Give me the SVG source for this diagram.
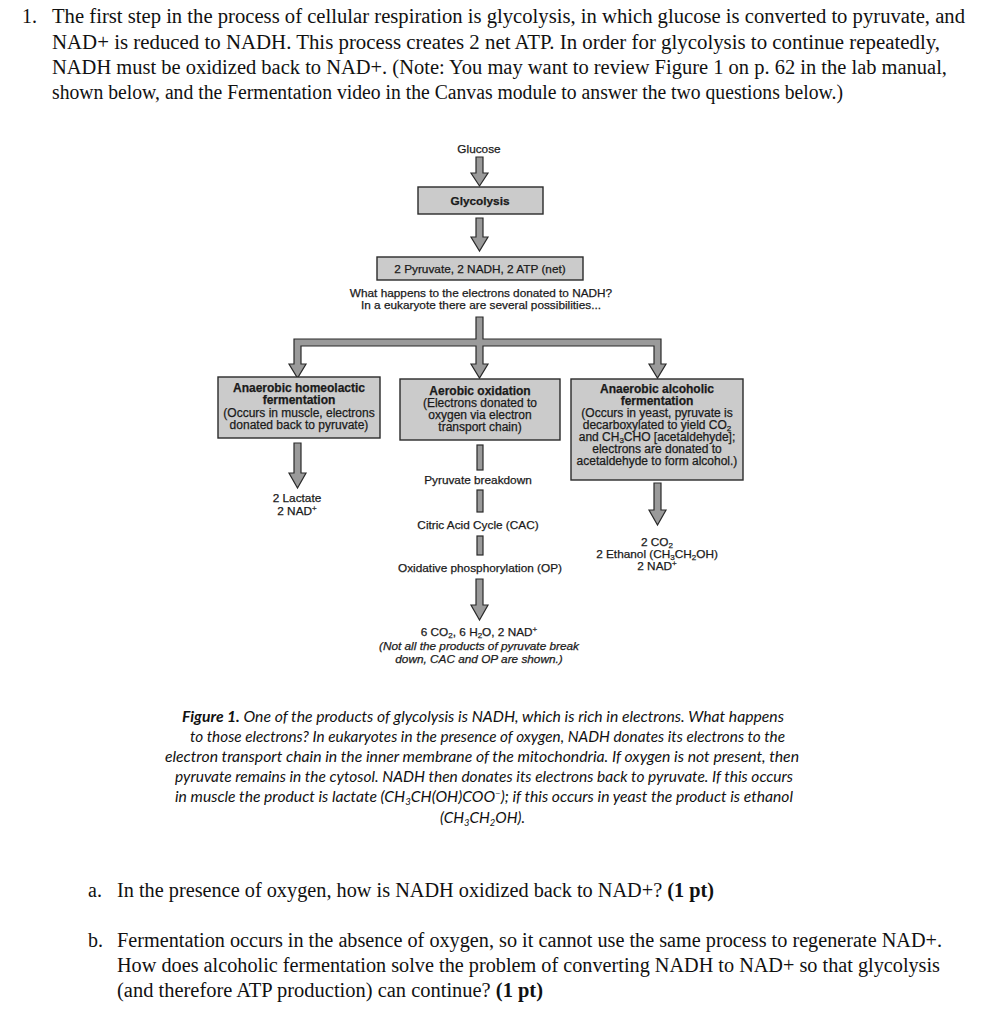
<svg xmlns="http://www.w3.org/2000/svg" width="988" height="1024" viewBox="0 0 988 1024">
<style>
.q{font-family:"Liberation Serif","Times New Roman",serif;font-size:20px;fill:#111}
.d{font-family:"Liberation Sans",Arial,sans-serif;font-size:11.8px;fill:#1a1a1a;stroke:#1a1a1a;stroke-width:0.25;text-anchor:middle}
.bx{font-size:12px}
.b{font-weight:bold}
.i{font-style:italic}
.s{font-size:8px}
.cap{font-family:Lato,"Liberation Sans",sans-serif;font-size:15.5px;font-style:italic;fill:#111;text-anchor:middle}
.box{fill:#cbcbcb;stroke:#2a2a2a;stroke-width:1.4}
.arr{fill:#9a9a9a;stroke:#2a2a2a;stroke-width:1.2;stroke-linejoin:miter}
</style>
<rect width="988" height="1024" fill="#fff"/>

<g id="intro">
<text class="q" x="22" y="23">1.</text>
<text class="q" x="52" y="23" textLength="913" lengthAdjust="spacingAndGlyphs">The first step in the process of cellular respiration is glycolysis, in which glucose is converted to pyruvate, and</text>
<text class="q" x="52" y="49" textLength="888" lengthAdjust="spacingAndGlyphs">NAD+ is reduced to NADH. This process creates 2 net ATP. In order for glycolysis to continue repeatedly,</text>
<text class="q" x="52" y="74" textLength="895" lengthAdjust="spacingAndGlyphs">NADH must be oxidized back to NAD+. (Note: You may want to review Figure 1 on p. 62 in the lab manual,</text>
<text class="q" x="52" y="99" textLength="791" lengthAdjust="spacingAndGlyphs">shown below, and the Fermentation video in the Canvas module to answer the two questions below.)</text>
</g>

<g id="connectors">
<path class="arr" d="M476,157 H483 V173 H488 L479.5,186 L471,173 H476 Z"/>
<path class="arr" d="M476,218 H483 V237 H488 L479.5,251 L471,237 H476 Z"/>
<path class="arr" d="M476,317 H483 V339 H661 V364 H666 L657.5,378 L649,364 H654 V346 H483 V364 H488 L479.5,378 L471,364 H476 V346 H301 V364 H306 L297.5,378 L289,364 H294 V339 H476 Z"/>
<path class="arr" d="M294,443 H301 V473 H306 L297.5,488 L289,473 H294 Z"/>
<rect class="arr" x="477" y="445" width="6" height="25"/>
<rect class="arr" x="477" y="490" width="6" height="22"/>
<rect class="arr" x="477" y="536" width="6" height="19"/>
<path class="arr" d="M476,579 H483 V605 H488 L479.5,620 L471,605 H476 Z"/>
<path class="arr" d="M654,483 H661 V510 H666 L657.5,525 L649,510 H654 Z"/>
</g>

<g id="glucose">
<text class="d" x="479" y="153">Glucose</text>
</g>

<g id="glycolysis">
<rect class="box" x="418" y="187" width="125" height="27"/>
<text class="d b" x="480" y="205">Glycolysis</text>
</g>

<g id="pyruvate">
<rect class="box" x="377" y="257" width="206" height="23"/>
<text class="d" x="480" y="273">2 Pyruvate, 2 NADH, 2 ATP (net)</text>
</g>

<g id="question-text">
<text class="d" x="481" y="297">What happens to the electrons donated to NADH?</text>
<text class="d" x="481" y="309">In a eukaryote there are several possibilities...</text>
</g>

<g id="lactic">
<rect class="box" x="218" y="377" width="162" height="61"/>
<text class="d bx b" x="299" y="392">Anaerobic homeolactic</text>
<text class="d bx b" x="299" y="404">fermentation</text>
<text class="d bx" x="299" y="417">(Occurs in muscle, electrons</text>
<text class="d bx" x="299" y="429">donated back to pyruvate)</text>
</g>

<g id="aerobic">
<rect class="box" x="400" y="379" width="160" height="61"/>
<text class="d bx b" x="480" y="395">Aerobic oxidation</text>
<text class="d bx" x="480" y="407">(Electrons donated to</text>
<text class="d bx" x="480" y="419">oxygen via electron</text>
<text class="d bx" x="480" y="431">transport chain)</text>
</g>

<g id="alcoholic">
<rect class="box" x="571" y="379" width="172" height="101"/>
<text class="d bx b" x="657" y="393">Anaerobic alcoholic</text>
<text class="d bx b" x="657" y="405">fermentation</text>
<text class="d bx" x="657" y="417">(Occurs in yeast, pyruvate is</text>
<text class="d bx" x="657" y="428.5">decarboxylated to yield CO<tspan class="s" dy="2">2</tspan></text>
<text class="d bx" x="657" y="440.5">and CH<tspan class="s" dy="2">3</tspan><tspan dy="-2">CHO [acetaldehyde];</tspan></text>
<text class="d bx" x="657" y="452.5">electrons are donated to</text>
<text class="d bx" x="657" y="464.5">acetaldehyde to form alcohol.)</text>
</g>

<g id="lactate">
<text class="d" x="297" y="502">2 Lactate</text>
<text class="d" x="297" y="515">2 NAD<tspan class="s" dy="-4">+</tspan></text>
</g>

<g id="pyruvate-breakdown">
<text class="d" x="478" y="484">Pyruvate breakdown</text>
</g>
<g id="cac">
<text class="d" x="478" y="529">Citric Acid Cycle (CAC)</text>
</g>
<g id="op">
<text class="d" x="480" y="572">Oxidative phosphorylation (OP)</text>
</g>

<g id="aerobic-products">
<text class="d" x="479" y="636">6 CO<tspan class="s" dy="2">2</tspan><tspan dy="-2">, 6 H</tspan><tspan class="s" dy="2">2</tspan><tspan dy="-2">O, 2 NAD</tspan><tspan class="s" dy="-4">+</tspan></text>
<text class="d i" x="479" y="650">(Not all the products of pyruvate break</text>
<text class="d i" x="479" y="663">down, CAC and OP are shown.)</text>
</g>

<g id="ethanol">
<text class="d" x="657" y="546">2 CO<tspan class="s" dy="2">2</tspan></text>
<text class="d" x="657" y="558">2 Ethanol (CH<tspan class="s" dy="2">3</tspan><tspan dy="-2">CH</tspan><tspan class="s" dy="2">2</tspan><tspan dy="-2">OH)</tspan></text>
<text class="d" x="657" y="570">2 NAD<tspan class="s" dy="-4">+</tspan></text>
</g>

<g id="caption">
<text class="cap" x="483" y="722" textLength="602" lengthAdjust="spacingAndGlyphs"><tspan font-weight="bold">Figure 1.</tspan> One of the products of glycolysis is NADH, which is rich in electrons. What happens</text>
<text class="cap" x="487.5" y="742" textLength="595" lengthAdjust="spacingAndGlyphs">to those electrons? In eukaryotes in the presence of oxygen, NADH donates its electrons to the</text>
<text class="cap" x="482" y="762" textLength="634" lengthAdjust="spacingAndGlyphs">electron transport chain in the inner membrane of the mitochondria. If oxygen is not present, then</text>
<text class="cap" x="484" y="782" textLength="618" lengthAdjust="spacingAndGlyphs">pyruvate remains in the cytosol. NADH then donates its electrons back to pyruvate. If this occurs</text>
<text class="cap" x="484" y="802" textLength="618" lengthAdjust="spacingAndGlyphs">in muscle the product is lactate (CH<tspan font-size="9.5" dy="3">3</tspan><tspan dy="-3">CH(OH)COO</tspan><tspan font-size="9.5" dy="-5">−</tspan><tspan dy="5">); if this occurs in yeast the product is ethanol</tspan></text>
<text class="cap" x="482.5" y="823" textLength="85" lengthAdjust="spacingAndGlyphs">(CH<tspan font-size="9.5" dy="3">3</tspan><tspan dy="-3">CH</tspan><tspan font-size="9.5" dy="3">2</tspan><tspan dy="-3">OH).</tspan></text>
</g>

<g id="questions">
<text class="q" x="88" y="897">a.</text>
<text class="q" x="117" y="897" textLength="597" lengthAdjust="spacingAndGlyphs">In the presence of oxygen, how is NADH oxidized back to NAD+? <tspan font-weight="bold">(1 pt)</tspan></text>
<text class="q" x="88" y="947">b.</text>
<text class="q" x="117" y="947" textLength="825" lengthAdjust="spacingAndGlyphs">Fermentation occurs in the absence of oxygen, so it cannot use the same process to regenerate NAD+.</text>
<text class="q" x="117" y="972" textLength="823" lengthAdjust="spacingAndGlyphs">How does alcoholic fermentation solve the problem of converting NADH to NAD+ so that glycolysis</text>
<text class="q" x="117" y="997" textLength="426" lengthAdjust="spacingAndGlyphs">(and therefore ATP production) can continue? <tspan font-weight="bold">(1 pt)</tspan></text>
</g>
</svg>
